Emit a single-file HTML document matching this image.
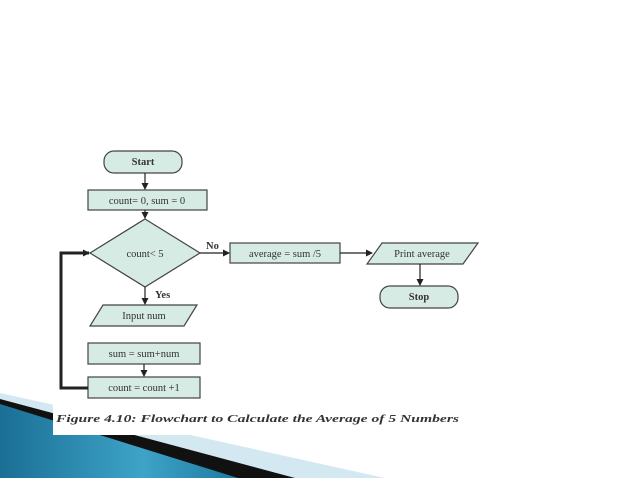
<!DOCTYPE html>
<html><head><style>
body{margin:0;width:638px;height:478px;background:#fff;overflow:hidden;position:relative}
svg{position:absolute;left:0;top:0}
text{font-family:"Liberation Serif",serif;font-size:10.5px;fill:#333}
</style></head><body>
<svg width="638" height="478" viewBox="0 0 638 478">
<defs>
<linearGradient id="bl" x1="0" y1="0" x2="1" y2="0"><stop offset="0" stop-color="#1a6f95"/><stop offset="0.6" stop-color="#3ea3c8"/><stop offset="1" stop-color="#1d7aa0"/></linearGradient>
<marker id="a" markerUnits="userSpaceOnUse" markerWidth="7" markerHeight="7" refX="6" refY="3.5" orient="auto"><path d="M0,0L7,3.5L0,7z" fill="#222"/></marker>
</defs>
<polygon points="0,393 385,478 0,478" fill="#d3e8f1"/>
<polygon points="0,399 295,478 0,478" fill="#111"/>
<polygon points="0,404 238,478 0,478" fill="url(#bl)"/>
<rect x="53" y="120" width="420" height="315" fill="#fff"/>
<g stroke="#444" stroke-width="1.2" fill="#d6ebe3">
<rect x="104" y="151" width="78" height="22" rx="10"/>
<rect x="88" y="190" width="119" height="20"/>
<polygon points="145,219 200,253 145,287 90,253"/>
<rect x="230" y="243" width="110" height="20"/>
<polygon points="382,243 478,243 463,264 367,264"/>
<rect x="380" y="286" width="78" height="22" rx="10"/>
<polygon points="103,305 197,305 184,326 90,326"/>
<rect x="88" y="343" width="112" height="21"/>
<rect x="88" y="377" width="112" height="21"/>
</g>
<g stroke="#222" stroke-width="1.2" fill="none">
<line x1="145" y1="173" x2="145" y2="189" marker-end="url(#a)"/>
<line x1="145" y1="210" x2="145" y2="218" marker-end="url(#a)"/>
<line x1="200" y1="253" x2="229" y2="253" marker-end="url(#a)"/>
<line x1="340" y1="253" x2="372" y2="253" marker-end="url(#a)"/>
<line x1="420" y1="264" x2="420" y2="285" marker-end="url(#a)"/>
<line x1="145" y1="287" x2="145" y2="304" marker-end="url(#a)"/>
<line x1="144" y1="364" x2="144" y2="376" marker-end="url(#a)"/>
<polyline points="88,388 61,388 61,253 89,253" stroke-width="3" marker-end="url(#a)"/>
</g>
<text x="143" y="165" text-anchor="middle" font-weight="bold">Start</text>
<text x="147" y="204" text-anchor="middle">count= 0, sum = 0</text>
<text x="145" y="257" text-anchor="middle">count&lt; 5</text>
<text x="285" y="257" text-anchor="middle">average = sum /5</text>
<text x="422" y="257" text-anchor="middle">Print average</text>
<text x="419" y="300" text-anchor="middle" font-weight="bold">Stop</text>
<text x="144" y="319" text-anchor="middle">Input num</text>
<text x="144" y="357" text-anchor="middle">sum = sum+num</text>
<text x="144" y="391" text-anchor="middle">count = count +1</text>
<text x="206" y="249" font-weight="bold">No</text>
<text x="155" y="298" font-weight="bold">Yes</text>
<text x="56" y="422" font-style="italic" font-weight="bold" font-size="11px" textLength="403" lengthAdjust="spacingAndGlyphs" fill="#444">Figure 4.10: Flowchart to Calculate the Average of 5 Numbers</text>
</svg>
</body></html>
